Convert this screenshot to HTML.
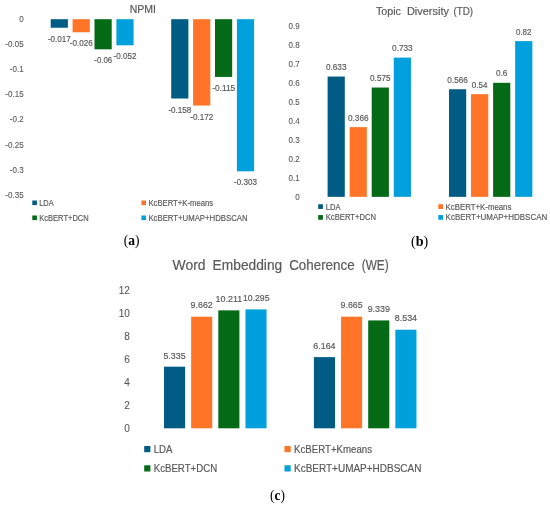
<!DOCTYPE html>
<html><head><meta charset="utf-8"><title>Figure</title>
<style>
html,body{margin:0;padding:0;background:#fff;}
svg{display:block;font-family:"Liberation Sans",sans-serif;}
</style></head><body>
<svg width="550" height="508" viewBox="0 0 550 508">
<rect width="550" height="508" fill="#ffffff"/>
<rect x="50.70" y="19.20" width="17.20" height="8.53" fill="#005C84"/>
<text x="47.90" y="41.73" font-size="9.2" textLength="23.00" lengthAdjust="spacingAndGlyphs" fill="#595959" stroke="#595959" stroke-width="0.18">-0.017</text>
<rect x="72.60" y="19.20" width="17.20" height="13.05" fill="#FF7427"/>
<text x="69.80" y="46.25" font-size="9.2" textLength="23.00" lengthAdjust="spacingAndGlyphs" fill="#595959" stroke="#595959" stroke-width="0.18">-0.026</text>
<rect x="94.50" y="19.20" width="17.20" height="30.12" fill="#046A15"/>
<text x="94.30" y="63.31" font-size="9.2" textLength="17.80" lengthAdjust="spacingAndGlyphs" fill="#595959" stroke="#595959" stroke-width="0.18">-0.06</text>
<rect x="116.40" y="19.20" width="17.20" height="26.10" fill="#00A0DC"/>
<text x="113.60" y="59.30" font-size="9.2" textLength="23.00" lengthAdjust="spacingAndGlyphs" fill="#595959" stroke="#595959" stroke-width="0.18">-0.052</text>
<rect x="171.20" y="19.20" width="17.20" height="79.32" fill="#005C84"/>
<text x="168.40" y="112.51" font-size="9.2" textLength="23.00" lengthAdjust="spacingAndGlyphs" fill="#595959" stroke="#595959" stroke-width="0.18">-0.158</text>
<rect x="193.10" y="19.20" width="17.20" height="86.34" fill="#FF7427"/>
<text x="190.30" y="119.54" font-size="9.2" textLength="23.00" lengthAdjust="spacingAndGlyphs" fill="#595959" stroke="#595959" stroke-width="0.18">-0.172</text>
<rect x="215.00" y="19.20" width="17.20" height="57.73" fill="#046A15"/>
<text x="212.20" y="90.92" font-size="9.2" textLength="23.00" lengthAdjust="spacingAndGlyphs" fill="#595959" stroke="#595959" stroke-width="0.18">-0.115</text>
<rect x="236.90" y="19.20" width="17.20" height="152.11" fill="#00A0DC"/>
<text x="234.10" y="185.30" font-size="9.2" textLength="23.00" lengthAdjust="spacingAndGlyphs" fill="#595959" stroke="#595959" stroke-width="0.18">-0.303</text>
<text transform="translate(23.60,21.79) scale(0.9,1)" font-size="8.9" text-anchor="end" fill="#595959" stroke="#595959" stroke-width="0.1">0</text>
<text transform="translate(23.60,46.94) scale(0.9,1)" font-size="8.9" text-anchor="end" fill="#595959" stroke="#595959" stroke-width="0.1">-0.05</text>
<text transform="translate(23.60,72.09) scale(0.9,1)" font-size="8.9" text-anchor="end" fill="#595959" stroke="#595959" stroke-width="0.1">-0.1</text>
<text transform="translate(23.60,97.24) scale(0.9,1)" font-size="8.9" text-anchor="end" fill="#595959" stroke="#595959" stroke-width="0.1">-0.15</text>
<text transform="translate(23.60,122.39) scale(0.9,1)" font-size="8.9" text-anchor="end" fill="#595959" stroke="#595959" stroke-width="0.1">-0.2</text>
<text transform="translate(23.60,147.54) scale(0.9,1)" font-size="8.9" text-anchor="end" fill="#595959" stroke="#595959" stroke-width="0.1">-0.25</text>
<text transform="translate(23.60,172.69) scale(0.9,1)" font-size="8.9" text-anchor="end" fill="#595959" stroke="#595959" stroke-width="0.1">-0.3</text>
<text transform="translate(23.60,197.84) scale(0.9,1)" font-size="8.9" text-anchor="end" fill="#595959" stroke="#595959" stroke-width="0.1">-0.35</text>
<text x="129.80" y="12.68" font-size="10" textLength="26.20" lengthAdjust="spacingAndGlyphs" fill="#595959" stroke="#595959" stroke-width="0.18">NPMI</text>
<rect x="32.30" y="200.50" width="4.60" height="4.60" fill="#005C84"/>
<text x="39.20" y="205.70" font-size="9.5" textLength="14.50" lengthAdjust="spacingAndGlyphs" fill="#595959" stroke="#595959" stroke-width="0.18">LDA</text>
<rect x="141.40" y="200.50" width="4.60" height="4.60" fill="#FF7427"/>
<text x="148.40" y="205.70" font-size="9.5" textLength="64.80" lengthAdjust="spacingAndGlyphs" fill="#595959" stroke="#595959" stroke-width="0.18">KcBERT+K-means</text>
<rect x="32.30" y="215.50" width="4.60" height="4.60" fill="#046A15"/>
<text x="39.20" y="220.70" font-size="9.5" textLength="49.60" lengthAdjust="spacingAndGlyphs" fill="#595959" stroke="#595959" stroke-width="0.18">KcBERT+DCN</text>
<rect x="141.40" y="215.50" width="4.60" height="4.60" fill="#00A0DC"/>
<text x="148.40" y="220.70" font-size="9.5" textLength="99.20" lengthAdjust="spacingAndGlyphs" fill="#595959" stroke="#595959" stroke-width="0.18">KcBERT+UMAP+HDBSCAN</text>
<text x="123.70" y="245.40" font-size="15.5" textLength="15.80" lengthAdjust="spacingAndGlyphs" fill="#000" font-family="Liberation Serif, serif">(<tspan font-weight="bold">a</tspan>)</text>
<rect x="327.60" y="76.55" width="17.20" height="120.30" fill="#005C84"/>
<text x="325.95" y="70.14" font-size="9.2" textLength="20.50" lengthAdjust="spacingAndGlyphs" fill="#595959" stroke="#595959" stroke-width="0.18">0.633</text>
<rect x="349.65" y="127.14" width="17.20" height="69.71" fill="#FF7427"/>
<text x="348.00" y="120.74" font-size="9.2" textLength="20.50" lengthAdjust="spacingAndGlyphs" fill="#595959" stroke="#595959" stroke-width="0.18">0.366</text>
<rect x="371.70" y="87.54" width="17.20" height="109.31" fill="#046A15"/>
<text x="370.05" y="81.13" font-size="9.2" textLength="20.50" lengthAdjust="spacingAndGlyphs" fill="#595959" stroke="#595959" stroke-width="0.18">0.575</text>
<rect x="393.75" y="57.60" width="17.20" height="139.25" fill="#00A0DC"/>
<text x="392.10" y="51.19" font-size="9.2" textLength="20.50" lengthAdjust="spacingAndGlyphs" fill="#595959" stroke="#595959" stroke-width="0.18">0.733</text>
<rect x="449.00" y="89.24" width="17.20" height="107.61" fill="#005C84"/>
<text x="447.35" y="82.84" font-size="9.2" textLength="20.50" lengthAdjust="spacingAndGlyphs" fill="#595959" stroke="#595959" stroke-width="0.18">0.566</text>
<rect x="471.05" y="94.17" width="17.20" height="102.68" fill="#FF7427"/>
<text x="471.85" y="87.76" font-size="9.2" textLength="15.60" lengthAdjust="spacingAndGlyphs" fill="#595959" stroke="#595959" stroke-width="0.18">0.54</text>
<rect x="493.10" y="82.80" width="17.20" height="114.05" fill="#046A15"/>
<text x="496.00" y="76.39" font-size="9.2" textLength="11.40" lengthAdjust="spacingAndGlyphs" fill="#595959" stroke="#595959" stroke-width="0.18">0.6</text>
<rect x="515.15" y="41.11" width="17.20" height="155.74" fill="#00A0DC"/>
<text x="515.95" y="34.70" font-size="9.2" textLength="15.60" lengthAdjust="spacingAndGlyphs" fill="#595959" stroke="#595959" stroke-width="0.18">0.82</text>
<text transform="translate(299.60,199.59) scale(0.9,1)" font-size="8.9" text-anchor="end" fill="#595959" stroke="#595959" stroke-width="0.1">0</text>
<text transform="translate(299.60,180.62) scale(0.9,1)" font-size="8.9" text-anchor="end" fill="#595959" stroke="#595959" stroke-width="0.1">0.1</text>
<text transform="translate(299.60,161.65) scale(0.9,1)" font-size="8.9" text-anchor="end" fill="#595959" stroke="#595959" stroke-width="0.1">0.2</text>
<text transform="translate(299.60,142.68) scale(0.9,1)" font-size="8.9" text-anchor="end" fill="#595959" stroke="#595959" stroke-width="0.1">0.3</text>
<text transform="translate(299.60,123.71) scale(0.9,1)" font-size="8.9" text-anchor="end" fill="#595959" stroke="#595959" stroke-width="0.1">0.4</text>
<text transform="translate(299.60,104.74) scale(0.9,1)" font-size="8.9" text-anchor="end" fill="#595959" stroke="#595959" stroke-width="0.1">0.5</text>
<text transform="translate(299.60,85.77) scale(0.9,1)" font-size="8.9" text-anchor="end" fill="#595959" stroke="#595959" stroke-width="0.1">0.6</text>
<text transform="translate(299.60,66.80) scale(0.9,1)" font-size="8.9" text-anchor="end" fill="#595959" stroke="#595959" stroke-width="0.1">0.7</text>
<text transform="translate(299.60,47.83) scale(0.9,1)" font-size="8.9" text-anchor="end" fill="#595959" stroke="#595959" stroke-width="0.1">0.8</text>
<text transform="translate(299.60,28.86) scale(0.9,1)" font-size="8.9" text-anchor="end" fill="#595959" stroke="#595959" stroke-width="0.1">0.9</text>
<text x="375.90" y="14.66" font-size="10.5" textLength="25.10" lengthAdjust="spacingAndGlyphs" fill="#595959" stroke="#595959" stroke-width="0.18">Topic</text>
<text x="406.90" y="14.66" font-size="10.5" textLength="42.10" lengthAdjust="spacingAndGlyphs" fill="#595959" stroke="#595959" stroke-width="0.18">Diversity</text>
<text x="453.40" y="14.66" font-size="10.5" textLength="19.60" lengthAdjust="spacingAndGlyphs" fill="#595959" stroke="#595959" stroke-width="0.18">(TD)</text>
<rect x="318.20" y="204.25" width="4.70" height="4.70" fill="#005C84"/>
<text x="325.70" y="209.50" font-size="9.5" textLength="14.80" lengthAdjust="spacingAndGlyphs" fill="#595959" stroke="#595959" stroke-width="0.18">LDA</text>
<rect x="438.30" y="204.25" width="4.70" height="4.70" fill="#FF7427"/>
<text x="445.60" y="209.50" font-size="9.5" textLength="65.80" lengthAdjust="spacingAndGlyphs" fill="#595959" stroke="#595959" stroke-width="0.18">KcBERT+K-means</text>
<rect x="318.20" y="215.05" width="4.70" height="4.70" fill="#046A15"/>
<text x="325.70" y="220.30" font-size="9.5" textLength="50.40" lengthAdjust="spacingAndGlyphs" fill="#595959" stroke="#595959" stroke-width="0.18">KcBERT+DCN</text>
<rect x="438.30" y="215.05" width="4.70" height="4.70" fill="#00A0DC"/>
<text x="445.60" y="220.30" font-size="9.5" textLength="101.60" lengthAdjust="spacingAndGlyphs" fill="#595959" stroke="#595959" stroke-width="0.18">KcBERT+UMAP+HDBSCAN</text>
<text x="411.10" y="245.80" font-size="15.5" textLength="17.20" lengthAdjust="spacingAndGlyphs" fill="#000" font-family="Liberation Serif, serif">(<tspan font-weight="bold">b</tspan>)</text>
<rect x="164.00" y="366.68" width="21.10" height="61.62" fill="#005C84"/>
<text x="163.45" y="358.82" font-size="9.6" textLength="22.20" lengthAdjust="spacingAndGlyphs" fill="#595959" stroke="#595959" stroke-width="0.18">5.335</text>
<rect x="191.15" y="316.70" width="21.10" height="111.60" fill="#FF7427"/>
<text x="190.60" y="308.24" font-size="9.6" textLength="22.20" lengthAdjust="spacingAndGlyphs" fill="#595959" stroke="#595959" stroke-width="0.18">9.662</text>
<rect x="218.30" y="310.36" width="21.10" height="117.94" fill="#046A15"/>
<text x="215.55" y="301.90" font-size="9.6" textLength="26.60" lengthAdjust="spacingAndGlyphs" fill="#595959" stroke="#595959" stroke-width="0.18">10.211</text>
<rect x="245.45" y="309.39" width="21.10" height="118.91" fill="#00A0DC"/>
<text x="242.90" y="300.93" font-size="9.6" textLength="26.60" lengthAdjust="spacingAndGlyphs" fill="#595959" stroke="#595959" stroke-width="0.18">10.295</text>
<rect x="313.90" y="357.11" width="21.10" height="71.19" fill="#005C84"/>
<text x="313.35" y="348.64" font-size="9.6" textLength="22.20" lengthAdjust="spacingAndGlyphs" fill="#595959" stroke="#595959" stroke-width="0.18">6.164</text>
<rect x="341.05" y="316.67" width="21.10" height="111.63" fill="#FF7427"/>
<text x="340.50" y="308.21" font-size="9.6" textLength="22.20" lengthAdjust="spacingAndGlyphs" fill="#595959" stroke="#595959" stroke-width="0.18">9.665</text>
<rect x="368.20" y="320.43" width="21.10" height="107.87" fill="#046A15"/>
<text x="367.65" y="311.97" font-size="9.6" textLength="22.20" lengthAdjust="spacingAndGlyphs" fill="#595959" stroke="#595959" stroke-width="0.18">9.339</text>
<rect x="395.35" y="329.73" width="21.10" height="98.57" fill="#00A0DC"/>
<text x="394.80" y="321.27" font-size="9.6" textLength="22.20" lengthAdjust="spacingAndGlyphs" fill="#595959" stroke="#595959" stroke-width="0.18">8.534</text>
<text transform="translate(129.90,432.38) scale(1.0,1)" font-size="10" text-anchor="end" fill="#595959" stroke="#595959" stroke-width="0.1">0</text>
<text transform="translate(129.90,409.26) scale(1.0,1)" font-size="10" text-anchor="end" fill="#595959" stroke="#595959" stroke-width="0.1">2</text>
<text transform="translate(129.90,386.14) scale(1.0,1)" font-size="10" text-anchor="end" fill="#595959" stroke="#595959" stroke-width="0.1">4</text>
<text transform="translate(129.90,363.02) scale(1.0,1)" font-size="10" text-anchor="end" fill="#595959" stroke="#595959" stroke-width="0.1">6</text>
<text transform="translate(129.90,339.90) scale(1.0,1)" font-size="10" text-anchor="end" fill="#595959" stroke="#595959" stroke-width="0.1">8</text>
<text transform="translate(129.90,316.78) scale(1.0,1)" font-size="10" text-anchor="end" fill="#595959" stroke="#595959" stroke-width="0.1">10</text>
<text transform="translate(129.90,293.66) scale(1.0,1)" font-size="10" text-anchor="end" fill="#595959" stroke="#595959" stroke-width="0.1">12</text>
<text x="172.60" y="270.41" font-size="14" textLength="33.00" lengthAdjust="spacingAndGlyphs" fill="#595959" stroke="#595959" stroke-width="0.18">Word</text>
<text x="212.60" y="270.41" font-size="14" textLength="69.60" lengthAdjust="spacingAndGlyphs" fill="#595959" stroke="#595959" stroke-width="0.18">Embedding</text>
<text x="289.20" y="270.41" font-size="14" textLength="65.40" lengthAdjust="spacingAndGlyphs" fill="#595959" stroke="#595959" stroke-width="0.18">Coherence</text>
<text x="361.80" y="270.41" font-size="14" textLength="26.80" lengthAdjust="spacingAndGlyphs" fill="#595959" stroke="#595959" stroke-width="0.18">(WE)</text>
<rect x="144.20" y="446.00" width="6.20" height="6.20" fill="#005C84"/>
<text x="153.70" y="452.69" font-size="10.3" textLength="18.70" lengthAdjust="spacingAndGlyphs" fill="#595959" stroke="#595959" stroke-width="0.18">LDA</text>
<rect x="284.50" y="446.00" width="6.20" height="6.20" fill="#FF7427"/>
<text x="294.00" y="452.69" font-size="10.3" textLength="78.00" lengthAdjust="spacingAndGlyphs" fill="#595959" stroke="#595959" stroke-width="0.18">KcBERT+Kmeans</text>
<rect x="144.20" y="465.30" width="6.20" height="6.20" fill="#046A15"/>
<text x="153.70" y="471.99" font-size="10.3" textLength="63.50" lengthAdjust="spacingAndGlyphs" fill="#595959" stroke="#595959" stroke-width="0.18">KcBERT+DCN</text>
<rect x="284.50" y="465.30" width="6.20" height="6.20" fill="#00A0DC"/>
<text x="294.00" y="471.99" font-size="10.3" textLength="127.40" lengthAdjust="spacingAndGlyphs" fill="#595959" stroke="#595959" stroke-width="0.18">KcBERT+UMAP+HDBSCAN</text>
<text x="270.10" y="500.20" font-size="15.5" textLength="14.90" lengthAdjust="spacingAndGlyphs" fill="#000" font-family="Liberation Serif, serif">(<tspan font-weight="bold">c</tspan>)</text>
</svg>
</body></html>
